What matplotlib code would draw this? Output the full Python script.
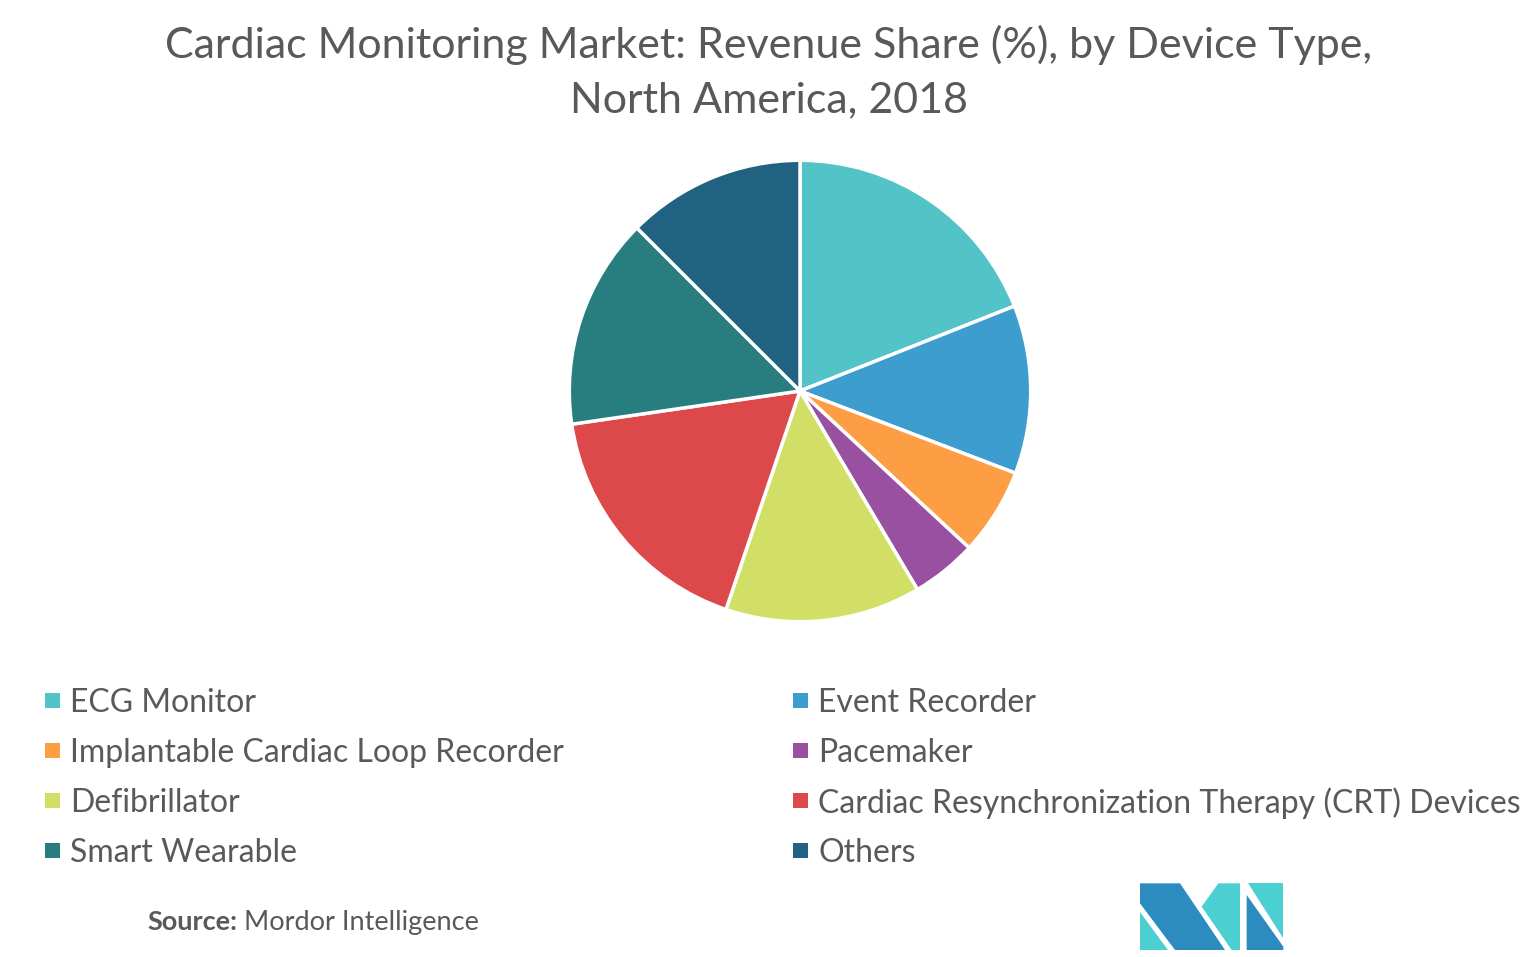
import matplotlib
matplotlib.use("Agg")
import matplotlib.pyplot as plt
from matplotlib.patches import Rectangle, Polygon

# Revenue share by device type
labels = ["ECG Monitor", "Event Recorder", "Implantable Cardiac Loop Recorder",
          "Pacemaker", "Defibrillator", "Cardiac Resynchronization Therapy (CRT) Devices",
          "Smart Wearable", "Others"]
shares = [19.0, 11.8, 6.1, 4.6, 13.7, 17.5, 14.8, 12.5]
colors = ["#52C3C6", "#3D9DCF", "#FD9E45", "#9A50A0", "#D1DF67", "#DD494A", "#287E7E", "#216182"]

title_lines = ["Cardiac Monitoring Market: Revenue Share (%), by Device Type,",
               "North America, 2018"]
text_color = "#595959"

plt.rcParams['font.family'] = ['Lato', 'DejaVu Sans']

W, H = 1540, 957
fig = plt.figure(figsize=(W / 100, H / 100), dpi=100)
fig.patch.set_facecolor("white")

# pie: centre (800, 391) px, radius 233 px
cx, cy, r = 800, 391, 233
ax = fig.add_axes([(cx - r) / W, (H - cy - r) / H, 2 * r / W, 2 * r / H])
ax.pie(shares, colors=colors, startangle=90, counterclock=False, radius=1,
       wedgeprops=dict(edgecolor="white", linewidth=2.5))
ax.set_xlim(-1.01, 1.01)
ax.set_ylim(-1.01, 1.01)
ax.axis("off")

for line, y in zip(title_lines, [45, 100]):
    fig.text(769 / W, 1 - y / H, line, ha="center", va="center", fontsize=31,
             color=text_color)

# legend in two columns
col_x = [45, 793]
row_y = [700, 750, 800, 850]
for i, (lab, col) in enumerate(zip(labels, colors)):
    x = col_x[i % 2]
    y = row_y[i // 2]
    fig.patches.append(Rectangle((x / W, 1 - (y + 7.5) / H), 15 / W, 15 / H,
                                 transform=fig.transFigure, facecolor=col, edgecolor="none"))
    fig.text((x + 25) / W, 1 - y / H, lab, ha="left", va="center_baseline",
             fontsize=23, color=text_color)

# source line
src = fig.text(147 / W, 1 - 920 / H, "Source:", ha="left", va="center_baseline",
               fontsize=19.5, fontweight="bold", color=text_color)
fig.canvas.draw()
bb = src.get_window_extent()
fig.text((bb.x1 + 7) / W, 1 - 920 / H, "Mordor Intelligence", ha="left",
         va="center_baseline", fontsize=19.5, color=text_color)

# logo (coordinates in a 3x crop of the logo area)
lax = fig.add_axes([1130 / W, 0, 170 / W, 82 / H])
lax.set_xlim(0, 510)
lax.set_ylim(246, 0)
lax.axis("off")
dark = "#2C8CC0"
light = "#4BCFD0"
shapes = [
    ([(30, 25), (150, 25), (285, 225), (135, 225), (30, 85)], dark),
    ([(30, 110), (30, 225), (115, 225)], light),
    ([(265, 25), (330, 25), (330, 225), (305, 225), (215, 95)], light),
    ([(355, 25), (460, 25), (460, 190)], light),
    ([(350, 60), (460, 215), (460, 225), (350, 225)], dark),
]
for pts, c in shapes:
    lax.add_patch(Polygon(pts, closed=True, facecolor=c, edgecolor="none"))

fig.savefig("out.png", dpi=100, facecolor="white")
